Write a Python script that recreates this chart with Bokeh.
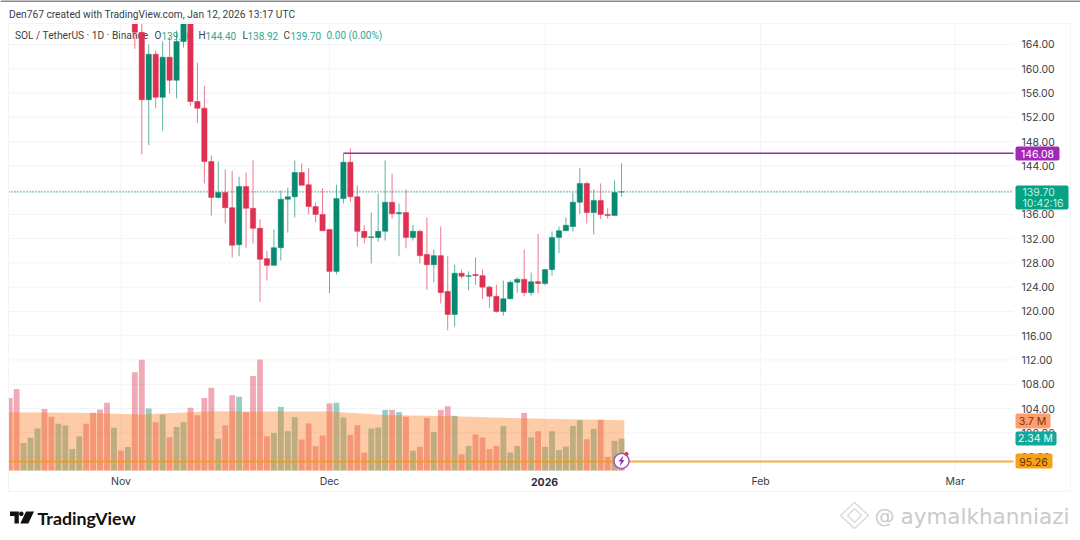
from bokeh.plotting import figure
from bokeh.models import Range1d, FixedTicker, Label, BoxAnnotation, PolyAnnotation, NumeralTickFormatter
from bokeh.embed import file_html
from bokeh.resources import INLINE
import numpy as np

# ---- data ----
candle_first_day = 2   # days counted from 1 Nov
opens = [167.5,166.0,154.9,162.4,155.3,161.9,158.1,164.5,167.5,154.6,153.5,144.7,138.8,139.6,137.1,131.0,140.6,137.0,133.7,128.7,127.6,130.5,138.5,138.9,142.9,140.9,137.3,136.0,133.5,126.6,
         138.6,144.6,138.9,133.2,132.2,132.2,133.2,138.0,136.1,136.3,132.2,133.2,129.4,127.7,129.2,123.3,119.5,126.3,125.8,126.1,125.9,124.0,122.5,120.0,122.1,124.8,125.3,123.1,124.9,124.6,
         126.9,132.2,133.3,134.0,138.0,141.1,136.3,138.3,136.0,135.8,139.70]
closes = [166.0,154.9,162.4,155.3,161.9,158.1,164.5,167.5,154.6,153.5,144.7,138.8,139.6,137.1,130.9,140.6,137.0,133.7,128.6,127.6,130.5,138.5,138.9,142.9,140.8,137.3,136.0,133.3,126.6,138.6,
          144.6,138.9,133.2,132.2,132.3,133.2,138.0,136.1,136.3,132.2,133.2,129.2,127.7,129.2,123.1,119.5,126.3,125.8,125.9,125.9,124.0,122.5,120.0,122.1,124.8,125.3,123.1,124.9,124.6,126.9,
          132.2,133.3,134.2,138.0,141.1,136.3,138.3,136.0,135.8,139.6,139.70]
highs = [167.5,167.5,164.0,163.0,164.5,165.2,166.3,167.5,167.5,161.0,157.2,145.7,144.7,143.4,143.2,142.2,142.9,144.9,135.2,130.0,133.5,139.9,140.4,144.9,144.4,143.6,138.0,140.3,133.5,140.9,
         146.0,146.9,140.8,134.2,136.3,139.4,144.9,142.7,137.8,140.1,134.3,133.5,135.5,130.2,134.0,129.1,127.7,126.9,126.6,128.9,126.9,124.3,124.4,125.1,125.1,125.6,130.2,126.4,132.8,126.9,
         133.2,134.0,135.5,139.6,143.6,141.4,140.1,141.1,137.0,141.6,144.40]
lows = [163.3,145.9,147.4,153.5,149.8,155.9,155.1,163.5,153.9,151.1,141.1,135.8,138.6,134.5,128.9,129.1,130.5,131.2,121.6,125.1,127.6,128.4,133.0,135.5,140.8,136.0,134.7,133.3,123.0,126.1,
        137.8,138.0,130.7,131.2,127.9,131.5,131.7,135.3,129.1,130.4,131.7,127.9,123.6,124.8,121.3,116.9,117.5,125.4,123.5,124.4,122.1,120.6,119.8,119.3,122.0,123.1,122.5,122.6,123.0,124.3,
        125.9,129.6,133.3,133.2,136.1,134.5,132.7,135.2,135.3,135.8,138.92]

volume_first_day = -16
volumes = [5.34,6.00,2.03,2.40,3.09,4.53,3.95,3.43,3.31,1.59,2.52,3.43,4.24,4.49,4.98,3.14,1.47,1.72,
           7.23,8.14,4.56,3.55,4.12,2.45,3.19,3.55,4.61,4.07,5.34,6.08,2.33,3.33,5.54,5.42,4.29,6.94,8.16,2.52,2.75,4.68,2.89,3.92,2.28,3.46,1.79,2.57,
           4.93,4.98,3.90,2.62,3.33,1.32,3.09,3.16,4.46,4.46,4.29,3.95,1.45,1.74,3.87,2.84,4.46,4.73,4.02,1.20,1.81,2.65,2.43,1.57,1.81,3.26,1.32,1.81,4.24,2.43,2.89,1.74,2.89,1.50,1.76,3.28,3.70,2.30,3.06,3.73,1.00,2.18,2.34]
early_volume_up = [0,0,1,1,1,0,0,1,1,1,1,0,0,0,0,1,0,1]

ma_days = [-16.2,-6,3,13,21,30,38,48,57,72.4]
ma_volumes = [4.29,4.24,4.12,4.36,4.34,4.34,4.09,3.99,3.85,3.70]

resistance = 146.08
resistance_start_day = 32
support = 95.26
last_price = 139.70
pane_left_day, pane_right_day = -16.17, 128.37
pane_top_price, pane_bottom_price = 167.46, 93.78

price_ticks = [96,100,104,108,112,116,120,124,128,132,136,140,144,148,152,156,160,164]
month_days = [0,30,61,92,120]
month_labels = {0:"Nov",30:"Dec",92:"Feb",120:"Mar"}

# ---- colours ----
RED, GREEN = "#DE3152", "#078A70"
FONT = "Inter"
TFONT = "Roboto"
GRID = "#F3F4F5"

p = figure(width=1080, height=540, output_backend="svg", toolbar_location=None,
           x_range=Range1d(-17.32,138.01), y_range=Range1d(82.25,171.25),
           y_axis_location="right", min_border_left=0, min_border_top=0,
           min_border_right=0, min_border_bottom=0, outline_line_color=None)
p.extra_y_ranges = {"vol": Range1d(-5.147,34.56)}
p.grid.visible = False

ax = p.xaxis[0]
ax.ticker = FixedTicker(ticks=[d for d in month_days if d in month_labels])
ax.major_label_overrides = month_labels
ax.axis_line_color = None
ax.major_tick_line_color = None
ax.minor_tick_line_color = None
ax.major_label_text_font = FONT
ax.major_label_text_font_size = "10.5px"
ax.major_label_text_color = "#3A3D46"
ax.major_label_standoff = -72

ay = p.yaxis[0]
ay.ticker = FixedTicker(ticks=price_ticks)
ay.formatter = NumeralTickFormatter(format="0.00")
ay.axis_line_color = None
ay.major_tick_line_color = None
ay.minor_tick_line_color = None
ay.major_label_text_font = FONT
ay.major_label_text_font_size = "10.5px"
ay.major_label_text_color = "#3A3D46"
ay.major_label_standoff = -65

# own grid, limited to the pane
p.segment(pane_left_day, price_ticks, pane_right_day, price_ticks, line_color=GRID, line_width=1)
p.segment(month_days, pane_bottom_price, month_days, pane_top_price, line_color=GRID, line_width=1)

# volume
vol_x = np.arange(len(volumes)) + volume_first_day
cand_up = [c >= o for o, c in zip(opens, closes)]
vol_up = [bool(v) for v in early_volume_up] + cand_up
vol_col = [GREEN if u else RED for u in vol_up]
p.vbar(x=vol_x, top=volumes, bottom=0, width=0.84, fill_color=vol_col, fill_alpha=0.42,
       line_color=None, y_range_name="vol")
p.varea(x=ma_days, y1=[0]*len(ma_days), y2=ma_volumes, fill_color="#FB7D1E", fill_alpha=0.4, y_range_name="vol")

# levels
p.line([pane_left_day, pane_right_day], [support, support], line_color="#F39C12", line_width=2, line_alpha=0.8)
p.line([resistance_start_day, pane_right_day], [resistance, resistance], line_color="#9C27B0", line_width=1.6)
p.line([pane_left_day, pane_right_day], [last_price, last_price], line_color="#067F6A", line_width=1.2, line_dash="1 2")

# candles
cx = np.arange(len(opens)) + candle_first_day
col = [GREEN if u else RED for u in cand_up]
p.segment(cx, lows, cx, highs, line_color=col, line_width=1, line_alpha=0.65)
tops = [max(o, c) for o, c in zip(opens, closes)]
bots = [min(o, c) for o, c in zip(opens, closes)]
p.vbar(x=cx, top=tops, bottom=bots, width=0.76, fill_color=col, line_color=col, line_width=0.5)

# helpers in page pixels
H = 540
def txt(s, px, py, size, color, font=FONT, style="normal", align="left", level="overlay"):
    p.add_layout(Label(x=px, y=H-py, x_units="screen", y_units="screen", text=s, text_font=font,
                       text_font_size=f"{size}px", text_color=color, text_font_style=style,
                       text_align=align, text_baseline="middle", level=level))
def box(l, r, t, b, color, line=None, radius=2):
    p.add_layout(BoxAnnotation(left=l, right=r, top=H-t, bottom=H-b,
                               left_units="screen", right_units="screen", top_units="screen", bottom_units="screen",
                               fill_color=color or "#FFFFFF", fill_alpha=1 if color else 0,
                               line_color=line or "#FFFFFF", line_alpha=1 if line else 0,
                               border_radius=radius, level="annotation"))
def poly(xs, ys, fill, line=None, lw=1):
    p.add_layout(PolyAnnotation(xs=list(xs), ys=[H-y for y in ys], xs_units="screen", ys_units="screen",
                                fill_color=fill if fill else "#ffffff", fill_alpha=1 if fill else 0,
                                line_color=line or "#ffffff", line_alpha=1 if line else 0, line_width=lw, level="annotation"))

# top edge of the screenshot, left pane mask, pane outline
box(0, 1080, 0, 1, "#111111", radius=0)
box(0, 8, 300, 480, "#FFFFFF", radius=0)
box(8, 1070, 23, 491, None, "#F4F4F5", radius=0)

# bold year on time axis
txt("2026", 544, 481, 10.5, "#2A2E39", style="bold", align="center")

# header + legend
LG = "#3A3D46"; TEAL = "#2FA893"
txt("Den767 created with TradingView.com, Jan 12, 2026 13:17 UTC", 8.5, 13.5, 10.2, LG, font=TFONT)
txt("SOL / TetherUS · 1D · Binance", 14.5, 35, 10.2, LG, font=TFONT, level="underlay")
txt("O", 154, 35, 10, LG, font=TFONT, level="underlay")
txt("139.70", 161, 35, 10, TEAL, font=TFONT, level="underlay")
txt("H", 198, 35, 10, LG, font=TFONT); txt("144.40", 205, 35, 10, TEAL, font=TFONT)
txt("L", 242, 35, 10, LG, font=TFONT); txt("138.92", 247, 35, 10, TEAL, font=TFONT)
txt("C", 283, 35, 10, LG, font=TFONT); txt("139.70", 290, 35, 10, TEAL, font=TFONT)
txt("0.00 (0.00%)", 326, 35, 10, TEAL, font=TFONT)

# price badges
box(1015, 1059, 146, 160, "#A428B8")
txt("146.08", 1037, 153, 10.5, "#FFFFFF", align="center")
box(1015, 1068, 185, 209, "#07A283")
txt("139.70", 1022, 191, 10.5, "#BFF3E6")
txt("10:42:16", 1022, 203, 10.5, "#BFF3E6")
box(1015, 1050, 413, 428, "#FF9E6B")
txt("3.7 M", 1032, 420.5, 10.5, "#7A3010", align="center")
box(1015, 1056, 431, 445, "#12A79B")
txt("2.34 M", 1035, 438, 10.5, "#E6FFFA", align="center")
box(1015, 1052, 453, 468, "#F7A01C")
txt("95.26", 1033, 461, 10.5, "#5A3500", align="center")

# lightning icon
th = np.linspace(0, 2*np.pi, 32, endpoint=False)
poly(621+7.5*np.cos(th), 460.5+7.5*np.sin(th), "#FFFFFF", "#9C4FC0", 1.4)
poly([623,618,620.5,619,624,621.5], [455,461,461,466,459.5,459.5], "#8E35B5")
poly(626+2*np.cos(th), 453.5+2*np.sin(th), "#E8344E")

# TradingView logo
poly([9.5,18.3,18.3,14,14,9.5], [511,511,523,523,515.5,515.5], "#111111")
poly(20.8+2.3*np.cos(th), 513.3+2.3*np.sin(th), "#111111")
poly([25.5,33.5,27.8,19.8], [511,511,523,523], "#111111")
txt("TradingView", 37, 517, 17.8, "#111111", font="Lato", style="bold")

# watermark
WM = "#C9CACC"
poly([854,868,854,840], [502,515,528,515], None, "#D6D7D9", 1.2)
poly([854,861,854,847], [508,515,522,515], None, "#D6D7D9", 1.2)
txt("@", 874, 515.5, 20, WM, font="DejaVu Sans")
txt("aymalkhanniazi", 900, 516, 21.5, WM, font="DejaVu Sans")

open("out.html", "w").write(file_html(p, INLINE))
